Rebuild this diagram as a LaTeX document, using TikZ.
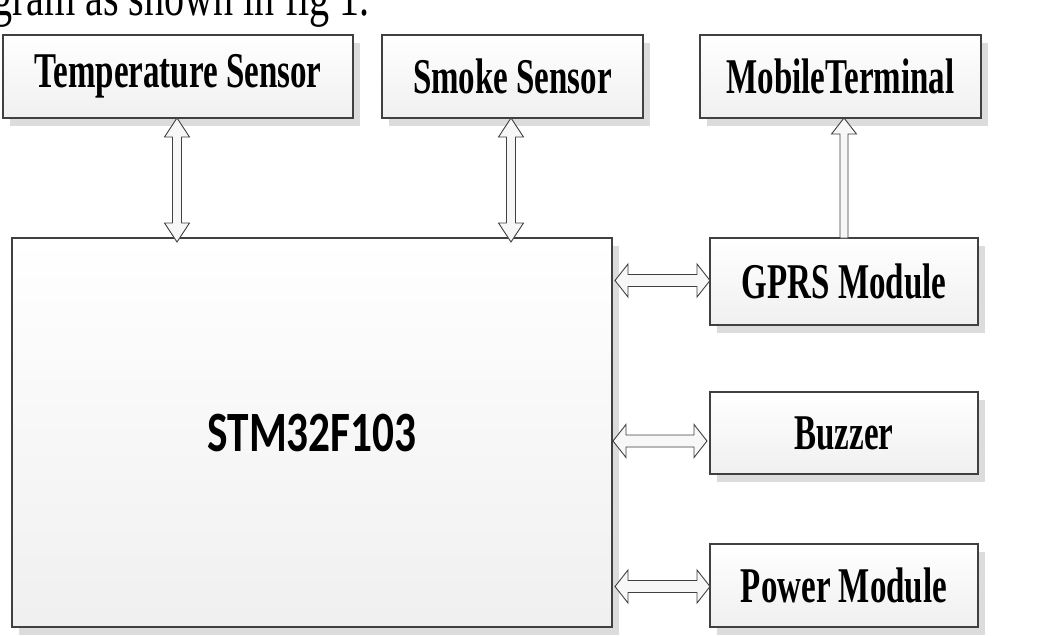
\documentclass[tikz,border=0pt]{standalone}
\usepackage{fontspec}
\usetikzlibrary{calc,shadows}
\newfontfamily\lblfont[FakeStretch=0.66]{Liberation Serif}
\newfontfamily\stmfont[FakeStretch=0.76]{Carlito}
\newfontfamily\topfont[FakeStretch=0.73]{Liberation Serif}
\definecolor{edge}{HTML}{404040}
\definecolor{shd}{HTML}{DCDCDC}
\tikzset{
  box/.style={draw=edge, line width=1.3pt, top color=white, bottom color=black!6,
    anchor=north west, inner sep=0pt, outer sep=0pt,
    drop shadow={shadow xshift=7pt, shadow yshift=-8pt, fill=shd, opacity=1},
    font=\lblfont\bfseries\fontsize{50}{55}\selectfont},
  arrmain/.style={draw=edge, line width=0.9pt, fill=white!97!black, line join=miter},
  arrshadow/.style={fill=shd, draw=none, shift={(5pt,-6pt)}},
}
% vertical double arrow: #1 style, #2 top tip, #3 bottom tip, #4 shaft half, #5 head half, #6 head length
\newcommand{\vdarrow}[6]{%
  \path[#1] let \p1=(#2), \p2=(#3) in
   (\x1,\y1) -- (\x1+#5,\y1-#6) -- (\x1+#4,\y1-#6) -- (\x1+#4,\y2+#6) -- (\x1+#5,\y2+#6)
   -- (\x1,\y2) -- (\x1-#5,\y2+#6) -- (\x1-#4,\y2+#6) -- (\x1-#4,\y1-#6) -- (\x1-#5,\y1-#6) -- cycle;}
% vertical single up arrow: #2 top tip, #3 bottom end
\newcommand{\vsarrow}[6]{%
  \path[#1] let \p1=(#2), \p2=(#3) in
   (\x1,\y1) -- (\x1+#5,\y1-#6) -- (\x1+#4,\y1-#6) -- (\x1+#4,\y2) -- (\x1-#4,\y2)
   -- (\x1-#4,\y1-#6) -- (\x1-#5,\y1-#6) -- cycle;}
% horizontal double arrow: #2 left tip, #3 right tip
\newcommand{\hdarrow}[6]{%
  \path[#1] let \p1=(#2), \p2=(#3) in
   (\x1,\y1) -- (\x1+#6,\y1+#5) -- (\x1+#6,\y1+#4) -- (\x2-#6,\y1+#4) -- (\x2-#6,\y1+#5)
   -- (\x2,\y1) -- (\x2-#6,\y1-#5) -- (\x2-#6,\y1-#4) -- (\x1+#6,\y1-#4) -- (\x1+#6,\y1-#5) -- cycle;}
\begin{document}
\begin{tikzpicture}[x=1pt,y=-1pt]
\useasboundingbox (0,0) rectangle (1050,635);
\node[anchor=base east, inner sep=0pt, font=\topfont\fontsize{55}{60}\selectfont] (cap) at (370,15) {gram as shown in fig 1.};

\node[box, minimum width=350, minimum height=83] (temp) at (3,35) {Temperature Sensor};
\node[box, minimum width=261, minimum height=83] (smoke) at (382,35) {Smoke Sensor};
\node[box, minimum width=281, minimum height=83] (mobile) at (700,35) {MobileTerminal};
\node[box, minimum width=600, minimum height=389, font=\stmfont\bfseries\fontsize{57}{60}\selectfont] (stm) at (12,238) {STM32F103};
\node[box, minimum width=268, minimum height=87] (gprs) at (710,238) {GPRS Module};
\node[box, minimum width=268, minimum height=82] (buzzer) at (710,392) {Buzzer};
\node[box, minimum width=268, minimum height=83] (power) at (710,544) {Power Module};

% connector end points
\coordinate (t1) at ($(temp.south)+(-1,0)$);
\coordinate (t2) at ($(stm.north -| t1)+(0,4)$);
\coordinate (s1) at ($(smoke.south)+(-1.5,0)$);
\coordinate (s2) at ($(stm.north -| s1)+(0,4)$);
\coordinate (m1) at (mobile.south -| gprs.north);
\coordinate (g1) at ($(stm.east |- gprs.west)+(3,-1)$);
\coordinate (g2) at ($(gprs.west)+(0,-1)$);
\coordinate (b1) at ($(stm.east |- buzzer.west)+(1,8)$);
\coordinate (b2) at ($(buzzer.west)+(-3,8)$);
\coordinate (p1) at ($(stm.east |- power.west)+(3,1)$);
\coordinate (p2) at ($(power.west)+(0,1)$);

\foreach \st in {arrshadow,arrmain}{
  \vdarrow{\st}{t1}{t2}{4.5pt}{12.5pt}{19pt}
  \vdarrow{\st}{s1}{s2}{4.5pt}{12.5pt}{19pt}
  \vsarrow{\st}{m1}{gprs.north}{4pt}{12.5pt}{16pt}
  \hdarrow{\st}{g1}{g2}{6pt}{16.5pt}{13pt}
  \hdarrow{\st}{b1}{b2}{6pt}{16.5pt}{13pt}
  \hdarrow{\st}{p1}{p2}{6pt}{16.5pt}{13pt}
}
\end{tikzpicture}
\end{document}
